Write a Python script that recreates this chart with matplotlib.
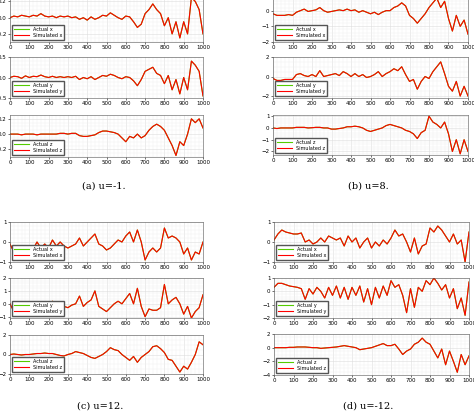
import numpy as np
import matplotlib
matplotlib.use('Agg')
import matplotlib.pyplot as plt

# values sampled every ~20 steps off the picture (actual and simulated overlap)
a_x = [0, 0.02, 0.01, 0.03, 0.02, 0.01, 0.03, 0.02, 0.05, 0.02, 0.01, 0.02, 0.0, 0.02, 0.01, 0.02, 0.0, 0.01, -0.02, 0.0,
       -0.03, 0.01, -0.02, 0.0, 0.03, 0.02, 0.06, 0.03, 0.0, -0.02, 0.02, 0.01, -0.05, -0.12, -0.08, 0.05, 0.1, 0.17, 0.1, 0.05,
       -0.1, 0.0, -0.2, -0.05, -0.25, -0.05, -0.2, 0.25, 0.2, 0.1, -0.2]
a_y = [0.0, 0.03, 0.02, -0.02, 0.04, 0.0, 0.03, 0.02, 0.06, 0.02, 0.0, 0.03, 0.0, 0.02, 0.0, 0.02, 0.0, 0.03, -0.05, 0.0,
       -0.03, 0.02, -0.05, 0.0, 0.05, 0.03, 0.08, 0.05, 0.0, -0.03, 0.02, 0.0, -0.08, -0.2, -0.05, 0.15, 0.2, 0.25, 0.1, 0.05,
       -0.15, 0.05, -0.3, -0.05, -0.4, 0.0, -0.3, 0.4, 0.3, 0.15, -0.45]
a_z = [0, 0, 0, -0.01, 0, 0, 0, -0.01, 0, 0, 0, 0, 0, 0.01, 0.01, 0.0, 0.01, 0.01, -0.02, -0.03,
       -0.03, -0.02, -0.01, 0.02, 0.04, 0.04, 0.03, 0.02, 0.0, -0.05, -0.1, -0.03, -0.05, 0.0, -0.05, -0.02, 0.05, 0.1, 0.13, 0.1,
       0.05, -0.05, -0.15, -0.28, -0.1, -0.15, 0.0, 0.2, 0.15, 0.2, 0.08]
b_x = [-0.2, -0.3, -0.3, -0.3, -0.25, -0.3, -0.1, 0.0, 0.1, -0.05, 0.0, 0.05, 0.2, 0.0, -0.1, -0.05, 0.0, 0.05, 0.0, 0.1,
       0.0, 0.05, -0.1, 0.0, -0.1, -0.2, -0.1, -0.25, -0.1, 0.0, 0.0, 0.2, 0.3, 0.5, 0.3, -0.3, -0.5, -0.8, -0.5, -0.2,
       0.2, 0.5, 0.8, 0.2, 0.6, -0.5, -1.3, -0.3, -1.0, -0.6, -1.5]
b_y = [-0.2, -0.4, -0.4, -0.3, -0.3, -0.3, 0.2, 0.3, 0.1, 0.0, 0.2, 0.0, 0.6, 0.0, 0.1, 0.2, 0.3, 0.1, 0.5, 0.3,
       0.0, 0.3, 0.0, 0.2, -0.1, 0.0, 0.2, 0.5, 0.0, 0.3, 0.5, 0.8, 0.6, 1.0, 0.2, -0.5, -0.3, -1.3, -0.5, 0.0,
       -0.2, 0.5, 1.0, 1.5, 0.3, -1.0, -1.5, -0.5, -2.0, -1.0, -2.0]
b_z = [0, -0.05, 0, 0, 0, 0, 0.05, 0.05, 0.05, 0.0, 0.02, 0.05, 0.05, 0.0, 0.0, -0.1, -0.1, -0.05, 0.0, 0.1,
       0.1, 0.15, 0.1, 0.0, -0.2, -0.3, -0.2, -0.1, 0.0, 0.2, 0.3, 0.2, 0.1, 0.0, -0.2, -0.3, -0.5, -0.9, -0.4, -0.2,
       1.0, 0.5, 0.3, 0.0, 0.5, -0.5, -2.0, -1.0, -2.2, -1.0, -2.0]
c_x = [-0.1, -0.5, -0.4, -0.45, -0.4, -0.4, -0.35, 0.0, -0.3, -0.1, -0.3, 0.1, -0.2, 0.0, -0.2, -0.3, -0.2, -0.1, 0.2, -0.2,
       0.0, 0.2, 0.4, -0.1, -0.2, -0.4, -0.3, -0.1, 0.1, 0.0, 0.3, 0.5, 0.0, 0.6, 0.0, -0.9, -0.5, -0.3, -0.5, -0.3,
       0.7, 0.2, 0.3, 0.2, 0.0, -0.6, -0.3, -0.9, -0.5, -0.6, 0.0]
c_y = [0.0, -0.6, -0.5, -0.6, -0.5, -0.4, -0.3, 0.1, -0.2, -0.1, -0.3, 0.2, -0.1, 0.0, -0.2, -0.3, -0.1, 0.0, 0.6, -0.2,
       0.1, 0.3, 1.0, -0.2, -0.4, -0.6, -0.3, 0.0, 0.2, 0.0, 0.4, 0.8, 0.0, 1.2, -0.2, -1.0, -0.4, -0.5, -0.5, -0.3,
       1.5, 0.0, 0.3, 0.5, 0.0, -0.8, -0.2, -1.1, -0.6, -0.3, 0.7]
c_z = [0.0, 0.05, 0.0, -0.05, 0.0, 0.0, 0.05, 0.1, 0.1, 0.15, 0.1, 0.1, 0.0, -0.1, -0.15, 0.0, 0.1, 0.3, 0.2, 0.1,
       -0.1, -0.3, -0.4, -0.2, 0.0, 0.3, 0.7, 0.5, 0.4, 0.0, -0.3, -0.6, -0.2, -0.8, -0.3, 0.0, 0.3, 0.8, 0.9, 0.6,
       0.2, -0.5, -0.6, -1.2, -1.8, -1.2, -1.5, -0.8, 0.0, 1.3, 1.0]
d_x = [0.1, 0.4, 0.6, 0.5, 0.45, 0.4, 0.4, 0.45, 0.0, 0.1, -0.1, 0.0, 0.2, 0.0, 0.3, 0.2, 0.1, 0.2, -0.2, 0.3,
       0.0, 0.2, -0.3, 0.0, 0.2, -0.3, 0.0, -0.2, 0.1, -0.1, 0.2, 0.6, 0.3, 0.4, 0.0, -0.5, 0.2, -0.6, -0.2, -0.1,
       0.7, 0.5, 0.8, 0.6, 0.3, 0.0, 0.4, -0.1, 0.1, -1.0, 0.5]
d_y = [0.3, 0.6, 0.6, 0.5, 0.4, 0.35, 0.3, 0.2, -0.6, 0.2, -0.2, 0.3, 0.0, -0.5, 0.3, -0.3, 0.4, -0.5, 0.3, -0.6,
       0.3, -0.3, 0.4, -0.8, 0.2, -1.0, 0.3, -0.5, 0.4, -0.3, 0.8, 0.3, 0.5, -0.3, -1.6, 0.2, -1.2, 0.3, 0.0, 0.8,
       0.5, 1.0, 0.6, 0.1, 0.5, -0.5, 0.2, -1.3, -0.5, -1.8, 0.7]
d_z = [0, 0, 0, 0, 0.05, 0.05, 0.1, 0.1, 0.1, 0.05, 0.0, 0.0, -0.1, -0.05, 0.0, 0.05, 0.1, 0.2, 0.3, 0.2,
       0.1, 0.0, -0.3, -0.2, -0.1, 0.0, 0.2, 0.4, 0.6, 0.3, 0.3, 0.5, -0.2, -1.0, -0.5, -0.2, 0.5, 0.8, 1.4, 0.8,
       0.5, -0.5, -1.5, -0.2, -2.5, -0.5, -2.0, -3.6, -1.0, -2.5, -1.2]

panels = [
    ('(a) u=-1.', [a_x, a_y, a_z], [(-0.3, 0.28), (-0.5, 0.5), (-0.3, 0.25)],
     [[-0.2, 0, 0.2], [-0.5, 0, 0.5], [-0.2, 0, 0.2]]),
    ('(b) u=8.', [b_x, b_y, b_z], [(-2, 1), (-2.2, 2), (-2.3, 1.1)],
     [[-2, -1, 0, 1], [-2, 0, 2], [-2, -1, 0, 1]]),
    ('(c) u=12.', [c_x, c_y, c_z], [(-1, 1), (-1.1, 2), (-2, 2)],
     [[-1, 0, 1], [-1, 0, 1, 2], [-2, 0, 2]]),
    ('(d) u=-12.', [d_x, d_y, d_z], [(-1, 1), (-2, 1), (-4, 2)],
     [[-1, 0, 1], [-2, -1, 0, 1], [-4, -2, 0, 2]]),
]
# pixel boxes: (left, right, [(top, bottom) x3], caption_x, caption_y)
boxes = [
    (10, 203, [(-5, 42), (57, 98), (115, 157)], 104, 186),
    (273, 468, [(-5, 42), (57, 98), (115, 155)], 368, 186),
    (10, 203, [(222, 262), (278, 318), (335, 374)], 100, 406),
    (274, 469, [(222, 262), (278, 318), (334, 375)], 368, 406),
]
W, H = 474, 413
names = ['x', 'y', 'z']

fig = plt.figure(figsize=(W / 100, H / 100), dpi=100)
for (cap, series, lims, ticks), (l, r, rows, cx, cy) in zip(panels, boxes):
    for k in range(3):
        top, bot = rows[k]
        ax = fig.add_axes([l / W, 1 - bot / H, (r - l) / W, (bot - top) / H])
        vals = series[k]
        t = np.linspace(0, 1000, len(vals))
        ax.plot(t, vals, color='#55cc00', lw=0.8, label='Actual ' + names[k])
        ax.plot(t, vals, color='#ff0000', lw=0.8, label='Simulated ' + names[k])
        ax.set_xlim(0, 1000)
        ax.set_ylim(*lims[k])
        ax.set_xticks(range(0, 1001, 100))
        ax.set_yticks(ticks[k])
        ax.minorticks_on()
        ax.grid(True, which='major', color='#dddddd', lw=0.4)
        ax.grid(True, which='minor', color='#eeeeee', lw=0.3)
        ax.tick_params(labelsize=4, length=1.5, width=0.4, pad=1)
        ax.tick_params(which='minor', length=0)
        for s in ax.spines.values():
            s.set_linewidth(0.4)
            s.set_color('#555555')
        ax.legend(loc='lower left', fontsize=3.5, handlelength=3, borderpad=0.4,
                  labelspacing=0.2, framealpha=1, edgecolor='#555555', fancybox=False)
    fig.text(cx / W, 1 - cy / H, cap, ha='center', va='center', fontsize=7, family='DejaVu Serif')

fig.savefig('out.png', dpi=100)
